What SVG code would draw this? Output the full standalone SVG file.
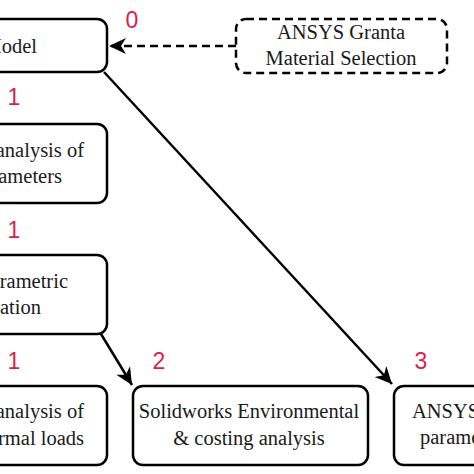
<svg xmlns="http://www.w3.org/2000/svg" width="474" height="474" viewBox="0 0 474 474">
<defs>
<style>
.box{fill:#fff;stroke:#000;stroke-width:2.5}
.dash{fill:#fff;stroke:#000;stroke-width:2.5;stroke-dasharray:8 5}
.t{font-family:"Liberation Serif","Times New Roman",serif;font-size:20.5px;fill:#1a1a1a}
.n{font-family:"Liberation Sans",Arial,sans-serif;font-size:23px;fill:#d81e4c;text-anchor:middle}
.c{fill:none;stroke:#000;stroke-width:2.5}
</style>
<marker id="ah" markerUnits="userSpaceOnUse" markerWidth="20" markerHeight="20" viewBox="-18 -10 20 20" refX="0" refY="0" orient="auto">
<path d="M0,0 L-17,-8 L-12,0 L-17,8 Z" fill="#000"/>
</marker>
</defs>
<rect width="474" height="474" fill="#fff"/>
<g id="connectors">
<path class="c" d="M104,72 L392,384" marker-end="url(#ah)"/>
<path class="c" d="M101,334 L132,385" marker-end="url(#ah)"/>
<path class="c" d="M236,46 L109,46" stroke-dasharray="8 5" marker-end="url(#ah)"/>
</g>
<g id="node-model">
<rect class="box" x="-100" y="19" width="207" height="53" rx="10"/>
<text class="t" x="37" y="53" text-anchor="end">Model</text>
</g>
<g id="node-granta">
<rect class="dash" x="236" y="19" width="211" height="54" rx="10"/>
<text class="t" x="341" y="39" text-anchor="middle">ANSYS Granta</text>
<text class="t" x="341" y="65" text-anchor="middle">Material Selection</text>
</g>
<g id="node-analysis-params">
<rect class="box" x="-100" y="124" width="207" height="79" rx="10"/>
<text class="t" x="84" y="157" text-anchor="end">analysis of</text>
<text class="t" x="62" y="183" text-anchor="end">rameters</text>
</g>
<g id="node-parametric">
<rect class="box" x="-100" y="255" width="207" height="79" rx="10"/>
<text class="t" x="68" y="288" text-anchor="end">rametric</text>
<text class="t" x="41" y="314" text-anchor="end">ation</text>
</g>
<g id="node-thermal">
<rect class="box" x="-100" y="386" width="207" height="79" rx="10"/>
<text class="t" x="84" y="418" text-anchor="end">analysis of</text>
<text class="t" x="84" y="445" text-anchor="end">rmal loads</text>
</g>
<g id="node-solidworks">
<rect class="box" x="133" y="386" width="235" height="79" rx="10"/>
<text class="t" x="249" y="418" text-anchor="middle">Solidworks Environmental</text>
<text class="t" x="249" y="445" text-anchor="middle">&amp; costing analysis</text>
</g>
<g id="node-ansys">
<rect class="box" x="394" y="386" width="207" height="79" rx="10"/>
<text class="t" x="412" y="418">ANSYS</text>
<text class="t" x="420" y="444">parame</text>
</g>
<g id="labels">
<text class="n" x="132" y="28">0</text>
<text class="n" x="14" y="105">1</text>
<text class="n" x="14" y="238">1</text>
<text class="n" x="14" y="369">1</text>
<text class="n" x="159" y="369">2</text>
<text class="n" x="421" y="369">3</text>
</g>
</svg>
